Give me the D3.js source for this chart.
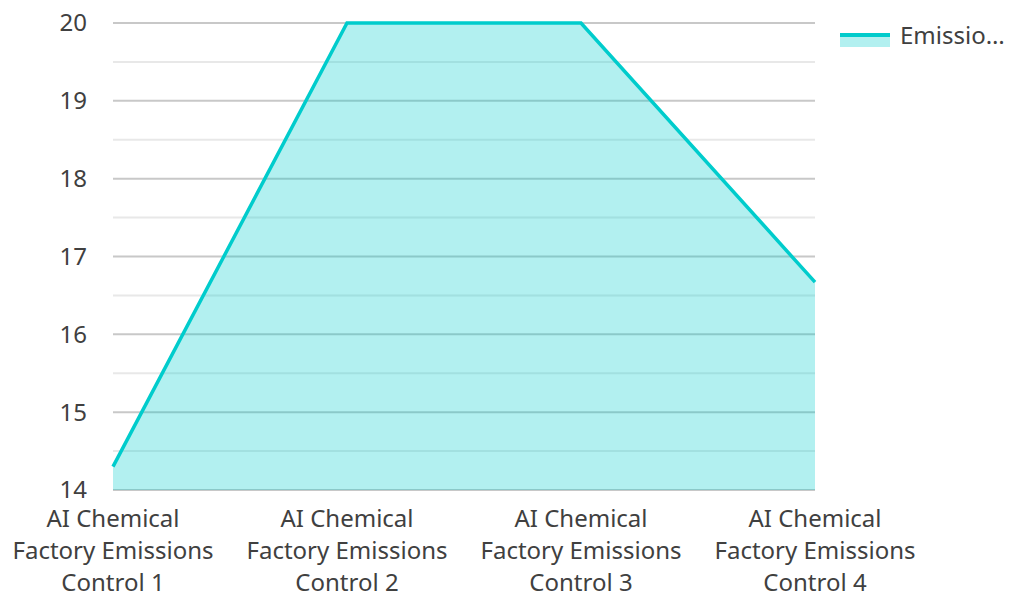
<!DOCTYPE html>
<html>
<head>
<meta charset="utf-8">
<script src="https://cdn.jsdelivr.net/npm/d3@7"></script>
<style>
  body { margin: 0; background: #fff; }
  text { font-family: "Noto Sans", "Open Sans", sans-serif; fill: #404040; }
</style>
</head>
<body>
<svg id="chart"></svg>
<script>
let width = 1010;
let height = 594;
let categories = ["AI Chemical Factory Emissions Control 1", "AI Chemical Factory Emissions Control 2",
    "AI Chemical Factory Emissions Control 3", "AI Chemical Factory Emissions Control 4"];
let labelLines = [["AI Chemical", "Factory Emissions", "Control 1"], ["AI Chemical", "Factory Emissions", "Control 2"],
    ["AI Chemical", "Factory Emissions", "Control 3"], ["AI Chemical", "Factory Emissions", "Control 4"]];
let values = [14.3, 20, 20, 16.67];
let yTicks = [14, 15, 16, 17, 18, 19, 20];
let seriesName = "Emissions";
let lineColor = "#00cccc";

let margin = {left: 113, right: 195, top: 23, bottom: 104};

let svg = d3.select("#chart").attr("width", width).attr("height", height);

let x = d3.scalePoint()
    .domain(categories)
    .range([margin.left, width - margin.right])
    .padding(0);

let y = d3.scaleLinear()
    .domain([14, 20])
    .range([height - margin.bottom, margin.top]);

// minor gridlines
let minor = d3.range(14.5, 20, 1);
svg.append("g").selectAll("line")
    .data(minor)
    .enter().append("line")
    .attr("x1", margin.left).attr("x2", width - margin.right)
    .attr("y1", d => y(d)).attr("y2", d => y(d))
    .attr("stroke", "#e8e8e8").attr("stroke-width", 2);

// major gridlines
svg.append("g").selectAll("line")
    .data(yTicks)
    .enter().append("line")
    .attr("x1", margin.left).attr("x2", width - margin.right)
    .attr("y1", d => y(d)).attr("y2", d => y(d))
    .attr("stroke", "#c8c8c8").attr("stroke-width", 2);

let pts = categories.map((c, i) => [x(c), y(values[i])]);

let area = d3.area()
    .x(d => d[0])
    .y0(y(14))
    .y1(d => d[1]);

svg.append("path")
    .attr("d", area(pts))
    .attr("fill", lineColor)
    .attr("fill-opacity", 0.3);

svg.append("path")
    .attr("d", d3.line()(pts))
    .attr("fill", "none")
    .attr("stroke", lineColor)
    .attr("stroke-width", 3.5);

// y labels
svg.append("g").selectAll("text")
    .data(yTicks)
    .enter().append("text")
    .attr("x", 87)
    .attr("y", d => y(d))
    .attr("dy", "0.35em")
    .attr("text-anchor", "end")
    .attr("font-size", 24)
    .text(d => d);

// x labels
let xl = svg.append("g").selectAll("text")
    .data(categories)
    .enter().append("text")
    .attr("text-anchor", "middle")
    .attr("font-size", 24);
xl.each(function (d, i) {
    let t = d3.select(this);
    labelLines[i].forEach((ln, k) => {
        t.append("tspan")
            .attr("x", x(d))
            .attr("y", 527 + k * 32)
            .text(ln);
    });
});

// legend
let lg = svg.append("g");
lg.append("rect")
    .attr("x", 840).attr("y", 35).attr("width", 50).attr("height", 12)
    .attr("fill", lineColor).attr("fill-opacity", 0.3);
lg.append("line")
    .attr("x1", 840).attr("x2", 890).attr("y1", 35).attr("y2", 35)
    .attr("stroke", lineColor).attr("stroke-width", 4);
lg.append("text")
    .attr("x", 900).attr("y", 36).attr("dy", "0.35em")
    .attr("font-size", 24)
    .text(seriesName.slice(0, 7) + "…");
</script>
</body>
</html>
